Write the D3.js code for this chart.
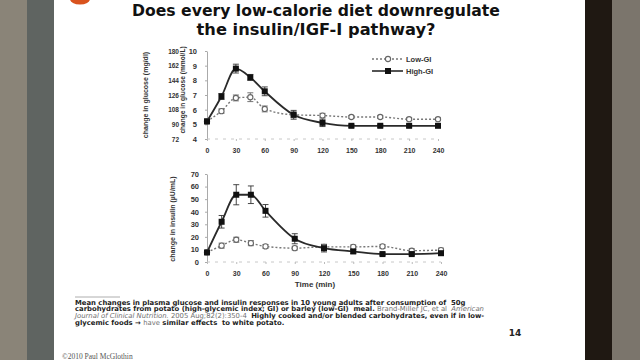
<!DOCTYPE html>
<html><head><meta charset="utf-8">
<script src="https://cdn.jsdelivr.net/npm/d3@7"></script>
<style>html,body{margin:0;padding:0;background:#fff;}svg{display:block;}</style>
</head><body>
<svg id="c" width="640" height="360"></svg>
<script>
// ---------- data ----------
const times = [0, 15, 30, 45, 60, 90, 120, 150, 180, 210, 240];
const xTicks = [0, 30, 60, 90, 120, 150, 180, 210, 240];
const seriesNames = ["Low-GI", "High-GI"];
const glucoseHigh = [5.2, 6.9, 8.8, 8.2, 7.25, 5.65, 5.1, 4.9, 4.9, 4.9, 4.9];
const glucoseHighErr = [0.15, 0.2, 0.3, 0.2, 0.3, 0.3, 0.25, 0.1, 0.1, 0.1, 0.1];
const glucoseLow = [5.2, 5.9, 6.8, 6.85, 6.05, 5.65, 5.6, 5.5, 5.5, 5.35, 5.35];
const glucoseLowErr = [0.15, 0.15, 0.2, 0.3, 0.2, 0.2, 0.15, 0.1, 0.1, 0.1, 0.1];
const insulinHigh = [7.6, 32, 53.5, 53.5, 40.7, 18.5, 11, 8.4, 6.3, 6.3, 7];
const insulinHighErr = [1, 5, 8, 7, 5, 4, 3, 1.5, 1, 1, 1];
const insulinLow = [7.6, 13, 17.7, 15, 12.4, 11, 12, 12, 12.4, 9, 9.5];
const insulinLowErr = [1, 2, 2, 2, 1.5, 1.5, 2, 1.5, 1.5, 1.5, 1.5];
const mmolTicks = [4, 5, 6, 7, 8, 9, 10];
const mgdlTicks = [72, 90, 108, 126, 144, 162, 180];
const insulinTicks = [0, 10, 20, 30, 40, 50, 60, 70];
const titleLines = ["Does every low-calorie diet downregulate", "the insulin/IGF-I pathway?"];

const svg = d3.select("#c");
const fmt = d3.format("d");

// ---------- slide frame ----------
const bg = [[0, 27, "#8a8478"], [27, 54, "#5f6461"], [54, 585, "#ffffff"], [585, 612, "#1f1812"], [612, 640, "#7b756c"]];
svg.selectAll("rect.bg").data(bg).join("rect").attr("class", "bg")
  .attr("x", d => d[0]).attr("y", 0).attr("width", d => d[1] - d[0]).attr("height", 360).attr("fill", d => d[2]);
svg.append("ellipse").attr("cx", 80).attr("cy", -1).attr("rx", 10).attr("ry", 5.5).attr("fill", "#d9531e");

// ---------- title ----------
const tW = [368, 239];
titleLines.forEach((t, i) => {
  const el = svg.append("text").attr("x", 316).attr("y", i === 0 ? 16 : 34.5)
    .attr("text-anchor", "middle").attr("font-family", "DejaVu Sans, Verdana, sans-serif")
    .attr("font-weight", "bold").attr("font-size", 16).attr("fill", "#111").text(t);
  const w = el.node().getComputedTextLength();
  el.attr("font-size", 16 * tW[i] / w);
});

// ---------- helpers ----------
const lineFont = "Liberation Sans, Arial, sans-serif";
function drawPanel(g, xs, ys, high, highErr, low, lowErr) {
  g.append("line").attr("x1", xs(0)).attr("x2", xs(240)).attr("y1", ys.range()[0]).attr("y2", ys.range()[0])
    .attr("stroke", "#c8c8c8").attr("stroke-width", 1).attr("stroke-dasharray", "3,5");
  const xAxis = d3.axisBottom(xs).tickValues(xTicks).tickFormat(fmt).tickSize(2).tickPadding(7);
  const ax = g.append("g").attr("transform", `translate(0,${ys.range()[0]})`).call(xAxis);
  ax.select(".domain").remove();
  ax.selectAll(".tick line").attr("stroke", "#bbb");
  ax.selectAll("text").attr("font-family", lineFont).attr("font-weight", "bold").attr("font-size", 7).attr("fill", "#333333");

  const line = d3.line().x((d, i) => xs(times[i])).y(d => ys(d)).curve(d3.curveMonotoneX);
  g.append("path").attr("d", line(low)).attr("fill", "none").attr("stroke", "#777").attr("stroke-width", 1.4).attr("stroke-dasharray", "2,2");
  g.append("path").attr("d", line(high)).attr("fill", "none").attr("stroke", "#2a2a2a").attr("stroke-width", 1.8);

  const err = (vals, errs, col) => {
    const e = g.append("g").attr("stroke", col).attr("stroke-width", 0.9);
    vals.forEach((v, i) => {
      const x = xs(times[i]), ya = ys(v - errs[i]), yb = ys(v + errs[i]);
      e.append("line").attr("x1", x).attr("x2", x).attr("y1", ya).attr("y2", yb);
      e.append("line").attr("x1", x - 3).attr("x2", x + 3).attr("y1", ya).attr("y2", ya);
      e.append("line").attr("x1", x - 3).attr("x2", x + 3).attr("y1", yb).attr("y2", yb);
    });
  };
  err(low, lowErr, "#666");
  err(high, highErr, "#333");

  g.selectAll("circle.low").data(low).join("circle").attr("class", "low")
    .attr("cx", (d, i) => xs(times[i])).attr("cy", d => ys(d)).attr("r", 2.6)
    .attr("fill", "#fff").attr("stroke", "#666").attr("stroke-width", 1.1);
  g.selectAll("rect.high").data(high).join("rect").attr("class", "high")
    .attr("x", (d, i) => xs(times[i]) - 3).attr("y", d => ys(d) - 3).attr("width", 6).attr("height", 6)
    .attr("fill", "#111");
}
function styleY(ax) {
  ax.select(".domain").attr("stroke", "#aaa");
  ax.selectAll(".tick line").attr("stroke", "#aaa");
  ax.selectAll("text").attr("font-family", lineFont).attr("font-weight", "bold").attr("font-size", 7.5).attr("fill", "#333333");
}
function yTitle(x, y, t, size) {
  svg.append("text").attr("transform", `translate(${x},${y}) rotate(-90)`).attr("text-anchor", "middle")
    .attr("font-family", lineFont).attr("font-weight", "bold").attr("font-size", size).attr("fill", "#333333").text(t);
}

// ---------- glucose panel ----------
const x1 = d3.scaleLinear().domain([0, 240]).range([207, 438]);
const y1 = d3.scaleLinear().domain([4, 10]).range([139, 51]);
const y1b = d3.scaleLinear().domain([72, 180]).range([139, 51]);
const gTop = svg.append("g");
const ay1 = gTop.append("g").attr("transform", "translate(207,0)")
  .call(d3.axisLeft(y1).tickValues(mmolTicks).tickFormat(fmt).tickSize(2).tickPadding(8).tickSizeOuter(0));
styleY(ay1);
const ay1b = gTop.append("g").attr("transform", "translate(179,0)")
  .call(d3.axisLeft(y1b).tickValues(mgdlTicks).tickFormat(fmt).tickSize(0).tickPadding(0));
ay1b.select(".domain").remove();
ay1b.selectAll("text").attr("font-family", lineFont).attr("font-weight", "bold").attr("font-size", 6.5).attr("fill", "#333333");
drawPanel(gTop, x1, y1, glucoseHigh, glucoseHighErr, glucoseLow, glucoseLowErr);
yTitle(148, 95, "change in glucose (mg/dl)", 7);
yTitle(185, 90, "change in glucose (mmol/L)", 6.6);

// legend
const lg = svg.append("g");
const legY = [59, 71];
lg.append("line").attr("x1", 372).attr("x2", 403).attr("y1", legY[0]).attr("y2", legY[0])
  .attr("stroke", "#777").attr("stroke-width", 1.4).attr("stroke-dasharray", "2,2");
lg.append("circle").attr("cx", 388).attr("cy", legY[0]).attr("r", 2.6).attr("fill", "#fff").attr("stroke", "#666").attr("stroke-width", 1.1);
lg.append("line").attr("x1", 372).attr("x2", 403).attr("y1", legY[1]).attr("y2", legY[1])
  .attr("stroke", "#2a2a2a").attr("stroke-width", 1.6);
lg.append("rect").attr("x", 385).attr("y", legY[1] - 3).attr("width", 6).attr("height", 6).attr("fill", "#111");
seriesNames.forEach((n, i) => {
  lg.append("text").attr("x", 406).attr("y", legY[i] + 2.8).attr("font-family", lineFont).attr("font-weight", "bold")
    .attr("font-size", 7.5).attr("fill", "#333333").text(n);
});

// ---------- insulin panel ----------
const x2 = d3.scaleLinear().domain([0, 240]).range([207, 441]);
const y2 = d3.scaleLinear().domain([0, 70]).range([262, 174]);
const gBot = svg.append("g");
const ay2 = gBot.append("g").attr("transform", "translate(207,0)")
  .call(d3.axisLeft(y2).tickValues(insulinTicks).tickFormat(fmt).tickSize(2).tickPadding(6).tickSizeOuter(0));
styleY(ay2);
drawPanel(gBot, x2, y2, insulinHigh, insulinHighErr, insulinLow, insulinLowErr);
yTitle(175, 219, "change in insulin (µU/mL)", 7);
svg.append("text").attr("x", 315).attr("y", 287).attr("text-anchor", "middle").attr("font-family", lineFont)
  .attr("font-weight", "bold").attr("font-size", 8).attr("fill", "#333333").text("Time (min)");

// ---------- caption ----------
svg.append("line").attr("x1", 75).attr("x2", 120).attr("y1", 297).attr("y2", 297).attr("stroke", "#999").attr("stroke-width", 0.8);
const capLines = [
  [["Mean changes in plasma glucose and insulin responses in 10 young adults after consumption of  50g", "b"]],
  [["carbohydrates from potato (high-glycemic index; GI) or barley (low-GI)  meal.", "b"], [" Brand-Miller JC, et al  ", "n"], ["American", "i"]],
  [["Journal of Clinical Nutrition.", "i"], [" 2005 Aug;82(2):350-4  ", "n"], ["Highly cooked and/or blended carbohydrates, even if in low-", "b"]],
  [["glycemic foods → ", "b"], ["have", "n"], [" similar effects  to white potato.", "b"]]
];
const capY = [304.5, 311.2, 317.9, 324.6];
capLines.forEach((ln, i) => {
  const t = svg.append("text").attr("x", 75).attr("y", capY[i]).attr("font-family", "DejaVu Sans, Verdana, sans-serif")
    .attr("font-size", 6.85).attr("fill", "#222222").style("white-space", "pre");
  ln.forEach(([s, k]) => {
    t.append("tspan").text(s)
      .attr("font-weight", k === "b" ? "bold" : "normal")
      .attr("font-style", k === "i" ? "italic" : "normal")
      .attr("fill", k === "b" ? "#222222" : "#707070");
  });
});
svg.append("text").attr("x", 515).attr("y", 336).attr("text-anchor", "middle").attr("font-family", "DejaVu Sans, Verdana, sans-serif")
  .attr("font-weight", "bold").attr("font-size", 9).attr("fill", "#222222").text("14");
svg.append("text").attr("x", 62).attr("y", 359).attr("font-family", "Liberation Serif, Times New Roman, serif")
  .attr("font-size", 7.5).attr("fill", "#555555").text("©2010 Paul McGlothin");
</script>
</body></html>
